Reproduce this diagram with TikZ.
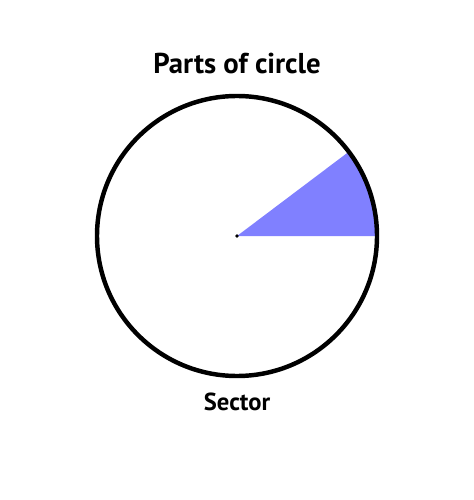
\documentclass[tikz,border=0pt]{standalone}
\usepackage{fontspec}
\setmainfont{PT Sans}
\begin{document}
\begin{tikzpicture}[
    x=0.3mm, y=-0.3mm,
    heading/.style={font=\bfseries\fontsize{24.5}{27}\selectfont, inner sep=0pt},
    label/.style={font=\bfseries\fontsize{21}{24}\selectfont, inner sep=0pt},
    rim/.style={draw=black, line width=3.8pt},
    piece/.style={fill=blue!50, draw=none}
]
    \useasboundingbox (0,0) rectangle (474,500);

    % Titel
    \node[heading] (title) at (237,63) {Parts of circle};

    % Kreis mit Sektor
    \coordinate (centre) at (237,236);
    \fill[piece] (centre) -- ++(0:140) arc[start angle=0, end angle=-37, radius=140] -- cycle;
    \draw[rim] (centre) circle[radius=140];
    \fill (centre) circle[radius=1.8];

    % Beschriftung
    \node[label] (sector) at (237,402) {Sector};
\end{tikzpicture}
\end{document}
